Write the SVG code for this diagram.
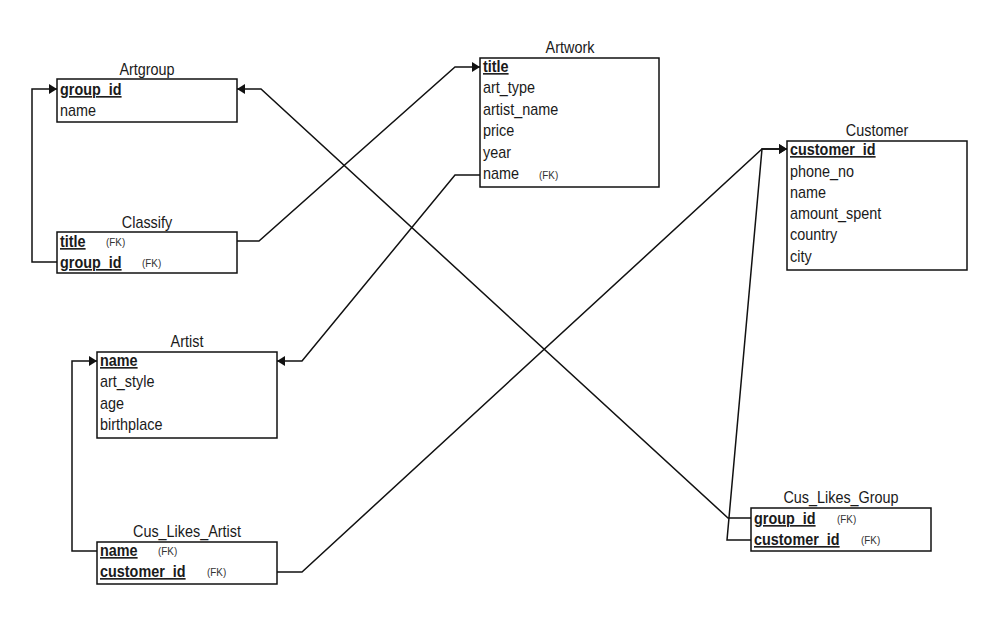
<svg xmlns="http://www.w3.org/2000/svg" width="997" height="621" viewBox="0 0 997 621">
<defs>
<marker id="arr" markerUnits="userSpaceOnUse" markerWidth="9" markerHeight="12" refX="8" refY="6" orient="auto">
<path d="M0,1 L8,6 L0,11 z" fill="#111"/>
</marker>
<style>
.box{fill:#fff;stroke:#111;stroke-width:1.5}
.t{font-family:"Liberation Sans",Arial,sans-serif;font-size:16px;fill:#1a1a1a}
.title{text-anchor:middle}
.k{font-weight:bold;text-decoration:underline}
.fk{font-family:"Liberation Sans",Arial,sans-serif;font-size:11px;fill:#333}
.c{fill:none;stroke:#111;stroke-width:1.5;marker-end:url(#arr)}
</style>
</defs>
<rect width="997" height="621" fill="#fff"/>
<g id="connectors">
<path class="c" d="M57,262 H32 V89 H57"/>
<path class="c" d="M237,241 H259 L455,67 H480"/>
<path class="c" d="M480,175 H455 L302,361 H277"/>
<path class="c" d="M97,551 H72 V361 H97"/>
<path class="c" d="M277,572 H302 L762,149 H787"/>
<path class="c" d="M751,518 H728 L261,89 H237"/>
<path class="c" d="M751,540 H727 L762,149 H787"/>
</g>
<g id="artgroup">
<text class="t title" transform="matrix(0.9 0 0 1 147 0)" x="0" y="75">Artgroup</text>
<rect class="box" x="57" y="79" width="180" height="43"/>
<text class="t k" transform="matrix(0.9 0 0 1 60 0)" x="0" y="95">group_id</text>
<text class="t" transform="matrix(0.9 0 0 1 60 0)" x="0" y="116">name</text>
</g>
<g id="classify">
<text class="t title" transform="matrix(0.9 0 0 1 147 0)" x="0" y="228">Classify</text>
<rect class="box" x="57" y="232" width="180" height="41"/>
<text class="t k" transform="matrix(0.9 0 0 1 60 0)" x="0" y="247">title</text>
<text class="fk" transform="matrix(0.9 0 0 1 106 0)" x="0" y="246">(FK)</text>
<text class="t k" transform="matrix(0.9 0 0 1 60 0)" x="0" y="268">group_id</text>
<text class="fk" transform="matrix(0.9 0 0 1 142 0)" x="0" y="267">(FK)</text>
</g>
<g id="artwork">
<text class="t title" transform="matrix(0.9 0 0 1 570 0)" x="0" y="53">Artwork</text>
<rect class="box" x="480" y="58" width="179" height="129"/>
<text class="t k" transform="matrix(0.9 0 0 1 483 0)" x="0" y="72">title</text>
<text class="t" transform="matrix(0.9 0 0 1 483 0)" x="0" y="93.5">art_type</text>
<text class="t" transform="matrix(0.9 0 0 1 483 0)" x="0" y="115">artist_name</text>
<text class="t" transform="matrix(0.9 0 0 1 483 0)" x="0" y="136.5">price</text>
<text class="t" transform="matrix(0.9 0 0 1 483 0)" x="0" y="158">year</text>
<text class="t" transform="matrix(0.9 0 0 1 483 0)" x="0" y="179.5">name</text>
<text class="fk" transform="matrix(0.9 0 0 1 539 0)" x="0" y="179">(FK)</text>
</g>
<g id="customer">
<text class="t title" transform="matrix(0.9 0 0 1 877 0)" x="0" y="136">Customer</text>
<rect class="box" x="787" y="141" width="180" height="129"/>
<text class="t k" transform="matrix(0.9 0 0 1 790 0)" x="0" y="155">customer_id</text>
<text class="t" transform="matrix(0.9 0 0 1 790 0)" x="0" y="177">phone_no</text>
<text class="t" transform="matrix(0.9 0 0 1 790 0)" x="0" y="198">name</text>
<text class="t" transform="matrix(0.9 0 0 1 790 0)" x="0" y="219.5">amount_spent</text>
<text class="t" transform="matrix(0.9 0 0 1 790 0)" x="0" y="240.5">country</text>
<text class="t" transform="matrix(0.9 0 0 1 790 0)" x="0" y="262">city</text>
</g>
<g id="artist">
<text class="t title" transform="matrix(0.9 0 0 1 187 0)" x="0" y="347">Artist</text>
<rect class="box" x="97" y="352" width="180" height="86"/>
<text class="t k" transform="matrix(0.9 0 0 1 100 0)" x="0" y="366">name</text>
<text class="t" transform="matrix(0.9 0 0 1 100 0)" x="0" y="387.5">art_style</text>
<text class="t" transform="matrix(0.9 0 0 1 100 0)" x="0" y="409">age</text>
<text class="t" transform="matrix(0.9 0 0 1 100 0)" x="0" y="430">birthplace</text>
</g>
<g id="cus_likes_artist">
<text class="t title" transform="matrix(0.9 0 0 1 187 0)" x="0" y="537">Cus_Likes_Artist</text>
<rect class="box" x="97" y="542" width="180" height="42"/>
<text class="t k" transform="matrix(0.9 0 0 1 100 0)" x="0" y="556">name</text>
<text class="fk" transform="matrix(0.9 0 0 1 158 0)" x="0" y="555">(FK)</text>
<text class="t k" transform="matrix(0.9 0 0 1 100 0)" x="0" y="577">customer_id</text>
<text class="fk" transform="matrix(0.9 0 0 1 207 0)" x="0" y="576">(FK)</text>
</g>
<g id="cus_likes_group">
<text class="t title" transform="matrix(0.9 0 0 1 841 0)" x="0" y="503">Cus_Likes_Group</text>
<rect class="box" x="751" y="508" width="180" height="43"/>
<text class="t k" transform="matrix(0.9 0 0 1 754 0)" x="0" y="524">group_id</text>
<text class="fk" transform="matrix(0.9 0 0 1 837 0)" x="0" y="523">(FK)</text>
<text class="t k" transform="matrix(0.9 0 0 1 754 0)" x="0" y="545">customer_id</text>
<text class="fk" transform="matrix(0.9 0 0 1 861 0)" x="0" y="544">(FK)</text>
</g>
</svg>
